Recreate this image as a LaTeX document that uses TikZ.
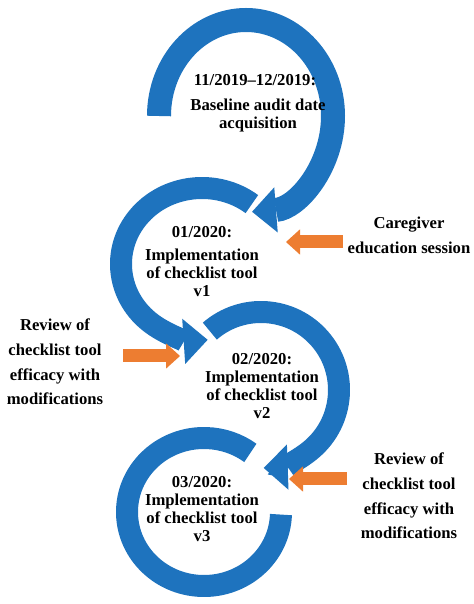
\documentclass[tikz,border=0pt]{standalone}
\usepackage{fontspec}
\setmainfont{Liberation Serif}
\usetikzlibrary{arrows.meta}
\definecolor{ringblue}{RGB}{30,115,190}
\definecolor{pushorange}{RGB}{237,125,49}

\begin{document}
\begin{tikzpicture}[
  x=0.75pt, y=0.75pt,
  ring/.style={
    ringblue, line width=16.5pt
  },
  ringtip/.style={-{Triangle[width=34pt,length=18pt,line width=0pt]}},
  push/.style={
    pushorange, line width=9.75pt,
    -{Triangle[width=19pt,length=10.5pt,line width=0pt]}
  },
  lbl/.style={font=\bfseries\fontsize{12.5}{13.5}\selectfont, align=center, inner sep=0pt},
  side/.style={font=\bfseries\fontsize{12.5}{18.5}\selectfont, align=center, inner sep=0pt}
]
  \useasboundingbox (0,0) rectangle (474,604);
  % ring centres
  \coordinate (c1) at (246,488);
  \coordinate (c2) at (202,340);
  \coordinate (c3) at (261,214);
  \coordinate (c4) at (204,92);
  % rings
  \draw[ring, line width=18pt, ringtip] ([shift={(180:87 and 96)}]c1)
    arc[start angle=180, end angle=-86, x radius=87, y radius=96];
  \draw[ring, ringtip] ([shift={(52:81 and 76)}]c2)
    arc[start angle=52, end angle=274, x radius=81, y radius=76];
  \draw[ring, ringtip] ([shift={(131:78 and 78)}]c3)
    arc[start angle=131, end angle=-88, x radius=78, y radius=78];
  \draw[ring] ([shift={(-2:77 and 74)}]c4)
    arc[start angle=-2, end angle=-307, x radius=77, y radius=74];
  % ring texts
  \node[lbl] (d1) at (255,524) {11/2019--12/2019:};
  \node[lbl] (b1) at (258,489) {Baseline audit date\\acquisition};
  \node[lbl] (d2) at (202,372) {01/2020:};
  \node[lbl] (b2) at (202,331) {Implementation\\of checklist tool\\v1};
  \node[lbl] (t3) at (262,218) {02/2020:\\Implementation\\of checklist tool\\v2};
  \node[lbl] (t4) at (202,95) {03/2020:\\Implementation\\of checklist tool\\v3};
  % side notes
  \node[side] (care) at (409,369) {Caregiver\\education session};
  \node[side] (revL) at (55,242) {Review of\\checklist tool\\efficacy with\\modifications};
  \node[side] (revR) at (409,108) {Review of\\checklist tool\\efficacy with\\modifications};
  % orange pushes
  \coordinate (careTail) at (343,362);
  \coordinate (careTip) at (286,362);
  \coordinate (revLTail) at (123,248);
  \coordinate (revLTip) at (180,248);
  \coordinate (revRTail) at (347,125);
  \coordinate (revRTip) at (289,125);
  \draw[push] (careTail) -- (careTip);
  \draw[push] (revLTail) -- (revLTip);
  \draw[push] (revRTail) -- (revRTip);
\end{tikzpicture}
\end{document}
